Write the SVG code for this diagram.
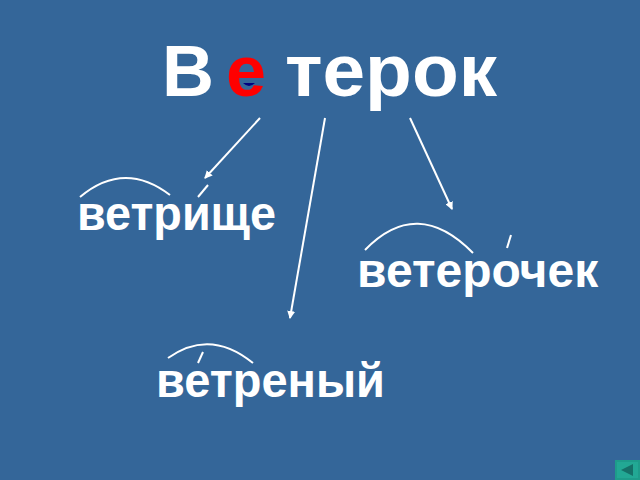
<svg xmlns="http://www.w3.org/2000/svg" width="640" height="480" viewBox="0 0 640 480">
<defs>
<style>
.w{fill:#ffffff;font-family:"Liberation Sans",Arial,sans-serif;font-weight:bold}
.t{font-size:72px}
.s{font-size:48px}
.ln{stroke:#ffffff;stroke-width:2;fill:none}
</style>
<marker id="ah" markerWidth="8" markerHeight="8" refX="7" refY="4" orient="auto" markerUnits="userSpaceOnUse">
<path d="M0,0 L8,4 L0,8 z" fill="#ffffff"/>
</marker>
</defs>
<rect width="640" height="480" fill="#346699"/>
<g id="title">
<text class="w t" x="162" y="96">В</text>
<text x="226" y="96" font-family="Liberation Sans,Arial,sans-serif" font-weight="bold" font-size="72" fill="#ff0000">е</text>
<path d="M243,83 Q249,89 255,83 Z" fill="#000080"/>
<text class="w" x="285" y="96" font-size="75" textLength="212" lengthAdjust="spacingAndGlyphs">терок</text>
</g>
<g id="connectors">
<line class="ln" x1="260" y1="118" x2="205" y2="178" marker-end="url(#ah)"/>
<line class="ln" x1="325" y1="118" x2="290" y2="318" marker-end="url(#ah)"/>
<line class="ln" x1="410" y1="118" x2="452" y2="209" marker-end="url(#ah)"/>
</g>
<g id="vetrishche">
<text class="w s" x="77" y="230" textLength="199" lengthAdjust="spacingAndGlyphs">ветрище</text>
<path class="ln" d="M80,197 Q124,160 170,195"/>
<line class="ln" x1="198" y1="197" x2="208" y2="185"/>
</g>
<g id="veterochek">
<text class="w s" x="357" y="287">ветерочек</text>
<path class="ln" d="M365,250 Q417,196 473,253"/>
<line class="ln" x1="507" y1="248" x2="511" y2="235"/>
</g>
<g id="vetrenyi">
<text class="w s" x="156" y="397" textLength="229" lengthAdjust="spacingAndGlyphs">ветреный</text>
<path class="ln" d="M168,358 Q210,328 253,363"/>
<line class="ln" x1="198" y1="363" x2="203" y2="352"/>
</g>
<g id="button">
<rect x="615" y="460" width="25" height="20" fill="#1e9c8a"/>
<rect x="617" y="462" width="21" height="16" fill="#22a894"/>
<path d="M621,470 L633,464 L633,476 Z" fill="#157068"/>
</g>
</svg>
